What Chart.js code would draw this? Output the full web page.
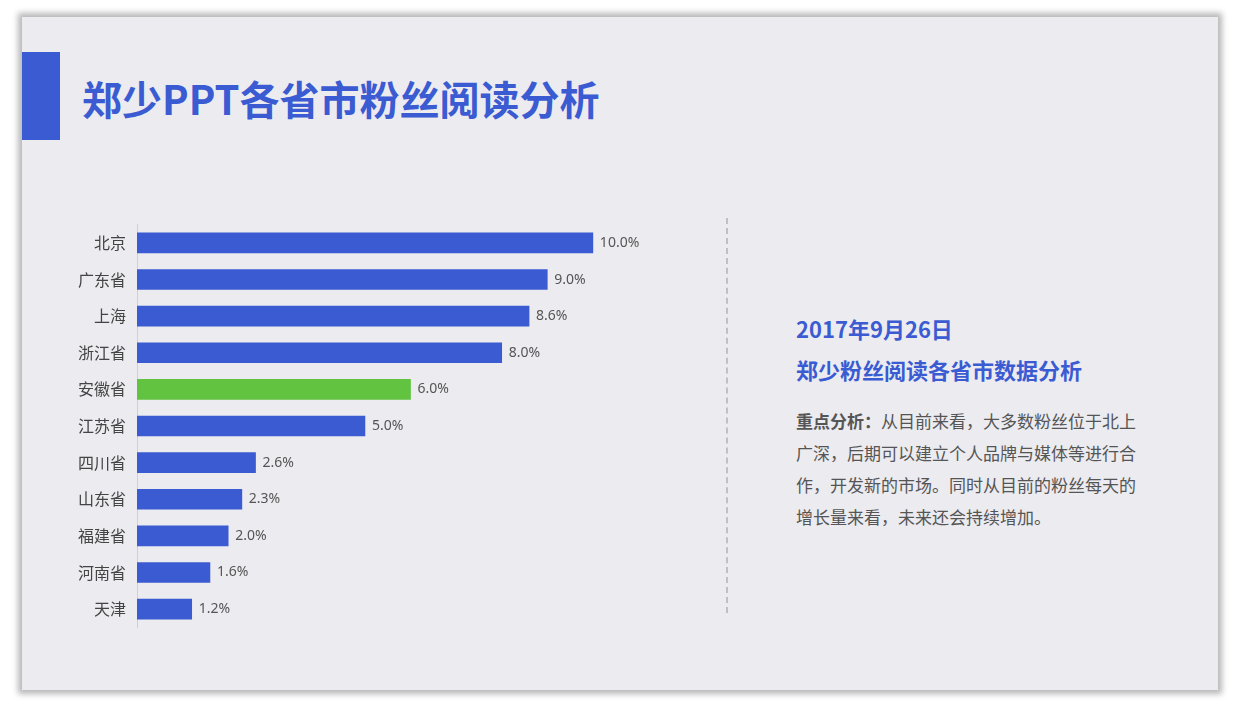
<!DOCTYPE html>
<html><head><meta charset="utf-8">
<script src="https://cdn.jsdelivr.net/npm/chart.js@4/dist/chart.umd.min.js"></script>
<style>
body{margin:0;width:1240px;height:706px;background:#fff;font-family:"Noto Sans CJK SC","Noto Sans",sans-serif;position:relative;overflow:hidden}
#slide{position:absolute;left:22px;top:17px;width:1196px;height:673px;background:#ebebf0;box-shadow:0 0 6px 4px #b8b8b8}
#bar{position:absolute;left:22px;top:52px;width:38px;height:88px;background:#3b5bd2}
#title{position:absolute;left:82px;top:69px;font-size:40px;font-weight:bold;color:#3b5bd2}
#dash{position:absolute;left:726px;top:218px;height:395px;border-left:2px dashed #c0c0c0}
#date{position:absolute;left:796px;top:312px;font-size:22px;font-weight:bold;color:#3b5bd2}
#sub{position:absolute;left:796px;top:353px;font-size:22px;font-weight:bold;color:#3b5bd2}
#para{position:absolute;left:796px;top:405px;width:352px;font-size:17px;line-height:32px;color:#555}
#wrap{position:absolute;left:70px;top:212px;width:630px;height:428px}
</style></head><body>
<div id="slide"></div>
<div id="bar"></div>
<div id="title">郑少PPT各省市粉丝阅读分析</div>
<div id="dash"></div>
<div id="date">2017年9月26日</div>
<div id="sub">郑少粉丝阅读各省市数据分析</div>
<div id="para"><b>重点分析：</b>从目前来看，大多数粉丝位于北上广深，后期可以建立个人品牌与媒体等进行合作，开发新的市场。同时从目前的粉丝每天的增长量来看，未来还会持续增加。</div>
<div id="wrap"><canvas id="c"></canvas></div>
<script>
const provinces = ['北京','广东省','上海','浙江省','安徽省','江苏省','四川省','山东省','福建省','河南省','天津'];
const shares = [10.0, 9.0, 8.6, 8.0, 6.0, 5.0, 2.6, 2.3, 2.0, 1.6, 1.2];
const highlight = '安徽省';

const valueLabels = {
  id: 'valueLabels',
  afterDatasetsDraw(chart) {
    const ctx = chart.ctx;
    const meta = chart.getDatasetMeta(0);
    ctx.save();
    ctx.font = '14px "Liberation Sans Narrow", "Noto Sans", sans-serif';
    ctx.fillStyle = '#555';
    ctx.textBaseline = 'middle';
    meta.data.forEach((el, i) => {
      ctx.fillText(shares[i].toFixed(1) + '%', el.x + 7, el.y);
    });
    ctx.restore();
  }
};

new Chart(document.getElementById('c'), {
  type: 'bar',
  data: {
    labels: provinces,
    datasets: [{
      data: shares,
      backgroundColor: provinces.map(p => p === highlight ? '#62c341' : '#3b5bd2'),
      barThickness: 20
    }]
  },
  options: {
    indexAxis: 'y',
    responsive: true,
    maintainAspectRatio: false,
    animation: false,
    layout: { padding: 0 },
    plugins: { legend: { display: false }, tooltip: { enabled: false } },
    scales: {
      x: { display: false, min: 0, max: 12.35 },
      y: {
        afterFit(scale) { scale.width = 67; },
        grid: { display: false },
        border: { color: '#cfcfd4' },
        ticks: { color: '#444', font: { size: 16, family: '"Noto Sans CJK SC"' }, padding: 3 }
      }
    }
  },
  plugins: [valueLabels]
});
</script>
</body></html>
